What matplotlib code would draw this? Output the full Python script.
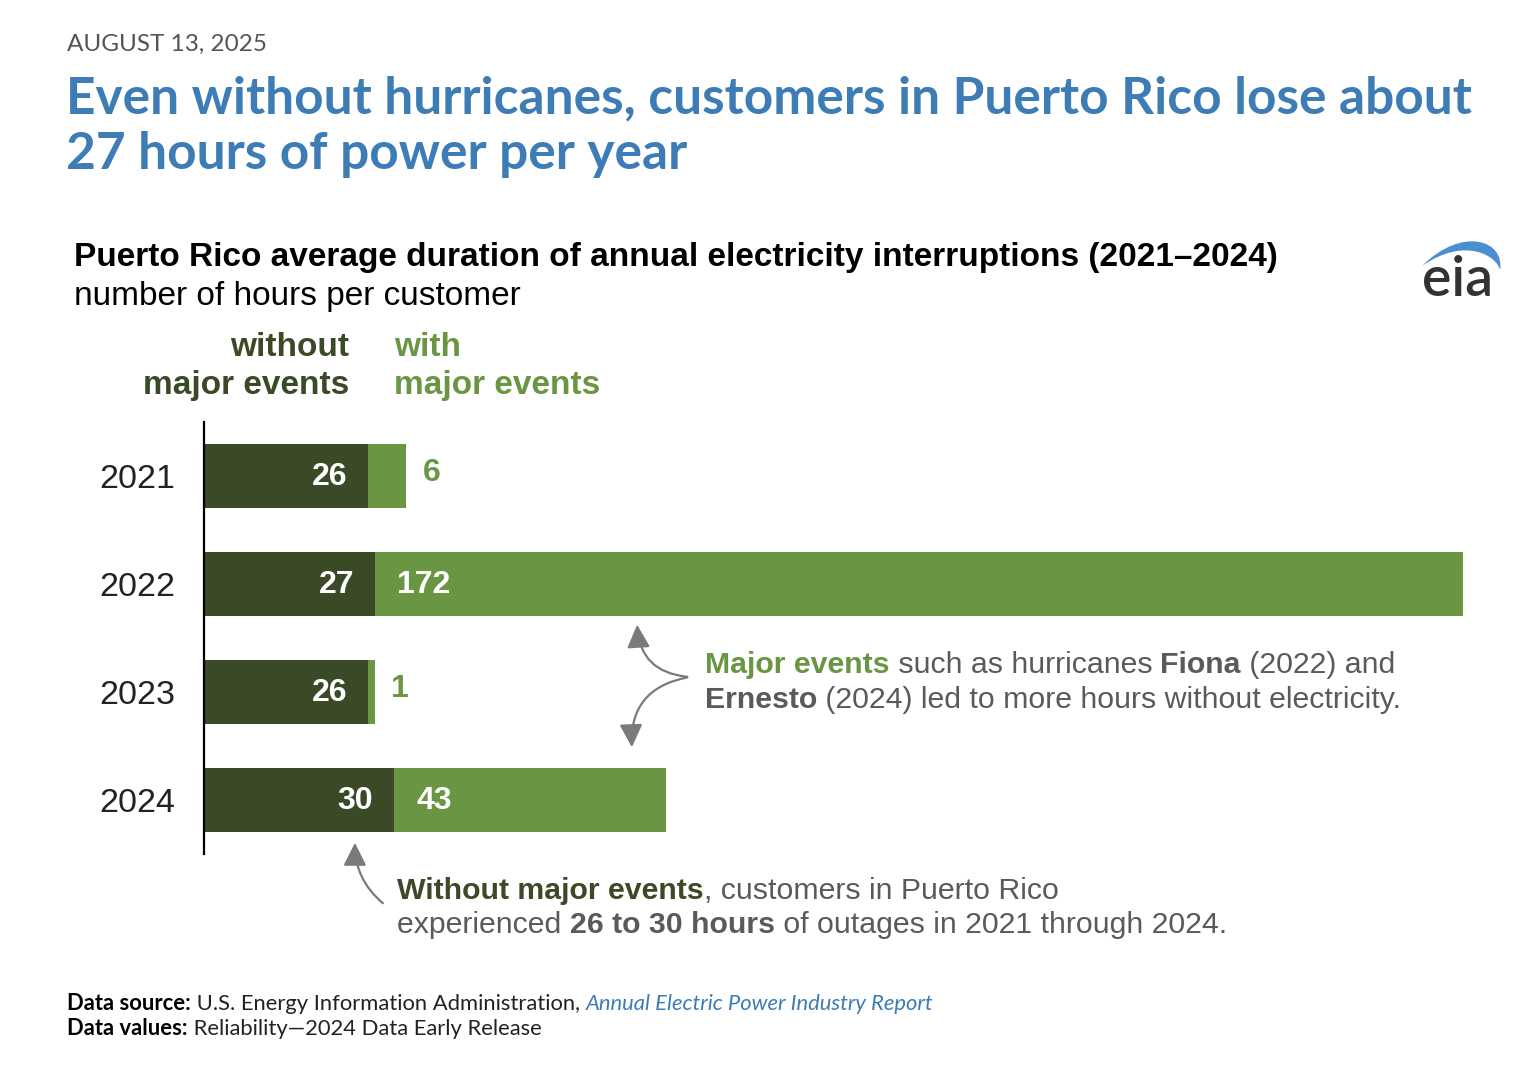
"""
Puerto Rico average duration of annual electricity interruptions (EIA chart).

Run: python plot.py
"""

import matplotlib

matplotlib.use("Agg")
import matplotlib.pyplot as plt
from matplotlib.patches import FancyArrowPatch, PathPatch
from matplotlib.path import Path

FIG_PATH = "out.png"
W, H = 1536, 1067

years = ["2021", "2022", "2023", "2024"]
without_major = [26, 27, 26, 30]
with_major = [6, 172, 1, 43]

DARK = "#3a4a27"
LIGHT = "#6a9643"
BLUE = "#3d7cb5"
GRAY = "#5a5a5a"
ARIAL = "Liberation Sans"


def fxy(x, y):
    """Pixel position (from top-left) to figure fraction."""
    return x / W, 1 - y / H


def rich(fig, x, y, parts, size, family=ARIAL):
    """Draw a line of mixed-style text starting at pixel x, baseline y."""
    r = fig.canvas.get_renderer()
    for s, color, weight, style in parts:
        fig.text(*fxy(x, y), s, color=color, weight=weight, style=style,
                 size=size, family=family, va="baseline", ha="left")
        kw = dict(size=size, weight=weight, style=style, family=family)
        probe = fig.text(0, 0, s + "|", **kw)
        bar = fig.text(0, 0, "|", **kw)
        x += probe.get_window_extent(r).width - bar.get_window_extent(r).width
        probe.remove()
        bar.remove()


def arrow(fig, a, b, rad):
    p = FancyArrowPatch(fxy(*a), fxy(*b), transform=fig.transFigure,
                        connectionstyle=f"arc3,rad={rad}",
                        arrowstyle="-|>,head_length=0.7,head_width=0.35",
                        mutation_scale=20, color="#7a7a7a", lw=1.6)
    fig.patches.append(p)


def main() -> None:
    fig = plt.figure(figsize=(W / 100, H / 100), dpi=100)

    # header
    fig.text(*fxy(67, 44), "AUGUST 13, 2025", family="Lato", size=17.5,
             color="#555555", va="center")
    fig.text(*fxy(66, 114), "Even without hurricanes, customers in Puerto Rico lose about",
             family="Lato", weight="bold", size=37, color=BLUE, va="baseline")
    fig.text(*fxy(66, 169), "27 hours of power per year",
             family="Lato", weight="bold", size=37, color=BLUE, va="baseline")
    fig.text(*fxy(74, 266),
             "Puerto Rico average duration of annual electricity interruptions (2021\u20132024)",
             family=ARIAL, weight="bold", size=24, color="black", va="baseline")
    fig.text(*fxy(74, 305), "number of hours per customer",
             family=ARIAL, size=24, color="black", va="baseline")

    # eia logo
    fig.text(*fxy(1458, 296), "eia", family="Lato", weight="semibold", size=40,
             color="#333333", ha="center", va="baseline")
    verts = [(1422, 266), (1462, 226), (1505, 240), (1500, 270),
             (1497, 256), (1465, 236), (1422, 266)]
    codes = [Path.MOVETO, Path.CURVE4, Path.CURVE4, Path.CURVE4,
             Path.CURVE4, Path.CURVE4, Path.CURVE4]
    logo = Path([fxy(*v) for v in verts], codes)
    fig.patches.append(PathPatch(logo, transform=fig.transFigure,
                                 facecolor="#4a8fd0", edgecolor="none"))

    # legend headings
    fig.text(*fxy(349, 356), "without", family=ARIAL, weight="bold", size=24,
             color=DARK, ha="right", va="baseline")
    fig.text(*fxy(349, 394), "major events", family=ARIAL, weight="bold", size=24,
             color=DARK, ha="right", va="baseline")
    fig.text(*fxy(394, 356), "with", family=ARIAL, weight="bold", size=24,
             color=LIGHT, ha="left", va="baseline")
    fig.text(*fxy(394, 394), "major events", family=ARIAL, weight="bold", size=24,
             color=LIGHT, ha="left", va="baseline")

    # bars
    ax = fig.add_axes([204 / W, 1 - 854 / H, 1259 / W, 432 / H])
    pos = list(range(len(years)))
    ax.barh(pos, without_major, height=0.6, color=DARK)
    ax.barh(pos, with_major, left=without_major, height=0.6, color=LIGHT)
    ax.set_xlim(0, 199)
    ax.set_ylim(3.5, -0.5)
    ax.set_yticks(pos, years, family=ARIAL, size=24.5, color="#222222")
    ax.tick_params(axis="y", length=0, pad=21)
    ax.set_xticks([])
    for s in ["top", "right", "bottom"]:
        ax.spines[s].set_visible(False)
    ax.spines["left"].set_linewidth(1.6)
    ax.spines["left"].set_zorder(5)

    for i, (wo, wi) in enumerate(zip(without_major, with_major)):
        ax.annotate(str(wo), (wo, i), xytext=(-15, -1), textcoords="offset points",
                    ha="right", va="center", color="white", weight="bold",
                    family=ARIAL, size=23)
        if wi < 10:
            ax.annotate(str(wi), (wo + wi, i), xytext=(12, 2), textcoords="offset points",
                        ha="left", va="center", color=LIGHT, weight="bold",
                        family=ARIAL, size=23)
        else:
            ax.annotate(str(wi), (wo, i), xytext=(16, -1), textcoords="offset points",
                        ha="left", va="center", color="white", weight="bold",
                        family=ARIAL, size=23)

    # annotations
    rich(fig, 705, 673, [("Major events", LIGHT, "bold", "normal"),
                         (" such as hurricanes ", GRAY, "normal", "normal"),
                         ("Fiona", GRAY, "bold", "normal"),
                         (" (2022) and", GRAY, "normal", "normal")], 21.8)
    rich(fig, 705, 708, [("Ernesto", GRAY, "bold", "normal"),
                         (" (2024) led to more hours without electricity.", GRAY, "normal", "normal")], 21.8)
    arrow(fig, (690, 677), (637, 622), -0.45)
    arrow(fig, (690, 677), (632, 750), 0.45)

    rich(fig, 397, 899, [("Without major events", DARK, "bold", "normal"),
                         (", customers in Puerto Rico", GRAY, "normal", "normal")], 21.8)
    rich(fig, 397, 933, [("experienced ", GRAY, "normal", "normal"),
                         ("26 to 30 hours", GRAY, "bold", "normal"),
                         (" of outages in 2021 through 2024.", GRAY, "normal", "normal")], 21.8)
    arrow(fig, (385, 905), (355, 840), -0.25)

    # footer
    rich(fig, 67, 1010, [("Data source:", "black", "bold", "normal"),
                         (" U.S. Energy Information Administration, ", "#222222", "normal", "normal"),
                         ("Annual Electric Power Industry Report", BLUE, "normal", "italic")], 15.8, "Lato")
    rich(fig, 67, 1035, [("Data values:", "black", "bold", "normal"),
                         (" Reliability\u20142024 Data Early Release", "#222222", "normal", "normal")], 15.8, "Lato")

    fig.savefig(FIG_PATH, dpi=100)
    plt.close(fig)


if __name__ == "__main__":
    main()
